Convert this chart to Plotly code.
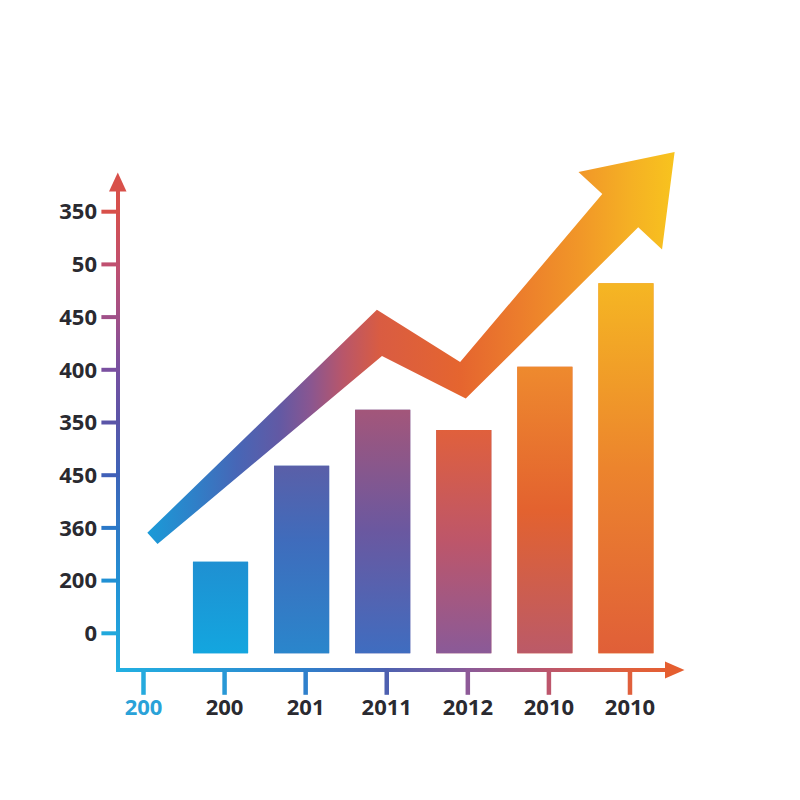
import math
import plotly.graph_objects as go

# ---------------- data ----------------
x_tick_positions = [0, 1, 2, 3, 4, 5, 6]
x_tick_labels = ["200", "200", "201", "2011", "2012", "2010", "2010"]
x_tick_colors = ["#25aade", "#2898d6", "#2f80cc", "#4e60b0", "#8e5a98", "#bd566c", "#e0603c"]

y_tick_values = [0, 50, 100, 150, 200, 250, 300, 350, 400]
y_tick_labels = ["0", "200", "360", "450", "350", "400", "450", "50", "350"]
y_tick_colors = ["#20a8dc", "#2090d4", "#2a78c8", "#4060b8", "#5a55a8",
                 "#7a50a0", "#a05088", "#c05070", "#d8504a"]

bar_x = [1, 2, 3, 4, 5, 6]
bar_values = [68, 159, 212, 193, 253, 332]
bar_colors = ["#1c9ad6", "#3e70bb", "#6c5ea2", "#b65c68", "#e2673c", "#ef8e2f"]
bar_gradients = [
    [[0, "#13a6df"], [1, "#1f90d2"]],
    [[0, "#2a86cc"], [0.6, "#3f6cbc"], [1, "#5a5fa8"]],
    [[0, "#3f6dc0"], [0.5, "#6a58a0"], [1, "#a3567a"]],
    [[0, "#8a5a98"], [0.5, "#bd566a"], [1, "#e0603c"]],
    [[0, "#bb5a68"], [0.5, "#e3622f"], [1, "#ee8a2e"]],
    [[0, "#e05f38"], [0.5, "#ec842d"], [1, "#f5b623"]],
]
BAR_BASE = -19
BAR_WIDTH, BAR_OFFSET = 0.68, -0.39

trend_x = [0.11, 2.91, 3.94, 5.88]
trend_y = [90, 285, 240, 401]

# ---------------- layout geometry (pixels, as seen on the page) ----------------
W = H = 800
PAGE_OFFSET = 8                       # default body margin of the html page
PX_L, PX_R, PX_T, PX_B = 100, 700, 140, 692
X0_PX, DX_PX = 143.5, 81.08           # pixel of x=0, pixels per x unit
Y0_PX, DY_PX = 633.3, 52.7 / 50.0     # pixel of y=0, pixels per y unit

x_range = [(PX_L - X0_PX) / DX_PX, (PX_R - X0_PX) / DX_PX]
y_range = [(Y0_PX - PX_B) / DY_PX, (Y0_PX - PX_T) / DY_PX]


def to_px(x, y):
    return X0_PX + x * DX_PX, Y0_PX - y * DY_PX


def to_data(px, py):
    return (px - X0_PX) / DX_PX, (Y0_PX - py) / DY_PX


def fill_trace(xs, ys, colorscale, gtype, start, stop):
    xs, ys = list(xs) + [xs[0]], list(ys) + [ys[0]]
    return go.Scatter(x=xs, y=ys, mode="lines", line=dict(width=0),
                      fill="toself",
                      fillgradient=dict(type=gtype, colorscale=colorscale,
                                        start=start, stop=stop),
                      hoverinfo="skip", showlegend=False)


def poly_trace(pts_px, colorscale, gtype, start_px, stop_px):
    xs, ys = zip(*[to_data(px, py) for px, py in pts_px])
    if gtype == "horizontal":
        start, stop = to_data(start_px, 0)[0], to_data(stop_px, 0)[0]
    else:
        start, stop = to_data(0, start_px)[1], to_data(0, stop_px)[1]
    return fill_trace(xs, ys, colorscale, gtype, start, stop)


fig = go.Figure()

# ---------------- trend arrow (band with gradient) ----------------
half_w = [7.6, 18.9, 14.5, 24.5]
HEAD_HW, HEAD_LEN = 57, 80
P = [to_px(x, y) for x, y in zip(trend_x, trend_y)]


def unit(v):
    n = math.hypot(*v)
    return (v[0] / n, v[1] / n)


dirs = [unit((P[i + 1][0] - P[i][0], P[i + 1][1] - P[i][1])) for i in range(len(P) - 1)]
nU = [(d[1], -d[0]) for d in dirs]
upper, lower = [], []
for i, (px, py) in enumerate(P):
    if i == 0:
        m, L = nU[0], half_w[0]
    elif i == len(P) - 1:
        m, L = nU[-1], half_w[i]
    else:
        m = unit((nU[i - 1][0] + nU[i][0], nU[i - 1][1] + nU[i][1]))
        L = half_w[i] / (m[0] * nU[i][0] + m[1] * nU[i][1])
    upper.append((px + m[0] * L, py + m[1] * L))
    lower.append((px - m[0] * L, py - m[1] * L))
pe, de, ne = P[-1], dirs[-1], nU[-1]
head_u = (pe[0] + ne[0] * HEAD_HW, pe[1] + ne[1] * HEAD_HW)
head_l = (pe[0] - ne[0] * HEAD_HW, pe[1] - ne[1] * HEAD_HW)
tip = (pe[0] + de[0] * HEAD_LEN, pe[1] + de[1] * HEAD_LEN)
arrow_pts = upper + [head_u, tip, head_l] + lower[::-1]

arrow_scale = [[0.0, "#1a9bd8"], [0.09, "#2f80c8"], [0.17, "#4766b6"], [0.25, "#6259a4"],
               [0.31, "#8a5690"], [0.37, "#b8566a"], [0.44, "#d95c42"], [0.592, "#e5652f"],
               [0.705, "#ec7d2c"], [0.819, "#f19728"], [0.913, "#f5b024"], [1.0, "#f8c41e"]]
fig.add_trace(poly_trace(arrow_pts, arrow_scale, "horizontal", 147, 676))

# ---------------- bars ----------------
fig.add_trace(go.Bar(x=bar_x, y=[v - BAR_BASE for v in bar_values], base=BAR_BASE,
                     width=BAR_WIDTH, offset=BAR_OFFSET,
                     marker=dict(color=bar_colors, line=dict(width=0)),
                     showlegend=False, hoverinfo="skip"))
# gradient shading of each bar, built from the same bar data
for bx, bv, grad in zip(bar_x, bar_values, bar_gradients):
    x_left = bx + BAR_OFFSET
    x_right = x_left + BAR_WIDTH
    fig.add_trace(fill_trace([x_left, x_right, x_right, x_left],
                             [BAR_BASE, BAR_BASE, bv, bv],
                             grad, "vertical", BAR_BASE, bv))

# ---------------- gradient axis lines ----------------
yaxis_scale = [[0.0, "#22b0e2"], [0.19, "#2390d4"], [0.41, "#3d64b8"], [0.52, "#5a55a8"],
               [0.63, "#7850a0"], [0.73, "#a05088"], [0.84, "#c05070"], [0.95, "#d5504e"],
               [1.0, "#d8504a"]]
fig.add_trace(poly_trace([(116, 672), (120, 672), (120, 189), (116, 189)],
                         yaxis_scale, "vertical", 672, 189))
fig.add_trace(poly_trace([(109, 191.5), (126.5, 191.5), (117.8, 172.5)],
                         [[0, "#d8504a"], [1, "#d8504a"]], "vertical", 192, 172))

xaxis_scale = [[0.0, "#22b0e2"], [0.19, "#2898d6"], [0.33, "#2f80cc"], [0.47, "#4a62b2"],
               [0.62, "#8a5a98"], [0.76, "#bb566c"], [0.90, "#e0603c"], [1.0, "#e55e30"]]
fig.add_trace(poly_trace([(116, 668), (667, 668), (667, 672), (116, 672)],
                         xaxis_scale, "horizontal", 116, 684))
fig.add_trace(poly_trace([(665, 661.5), (684.5, 670), (665, 678.5)],
                         [[0, "#e55e30"], [1, "#e55e30"]], "horizontal", 665, 685))

# ---------------- coloured tick marks ----------------
ytick_x = to_data(110.5, 0)[0]
fig.add_trace(go.Scatter(x=[ytick_x] * len(y_tick_values), y=y_tick_values, mode="markers",
                         marker=dict(symbol="line-ew", size=13,
                                     line=dict(width=4, color=y_tick_colors)),
                         cliponaxis=False, hoverinfo="skip", showlegend=False))
xtick_y = to_data(0, 681.5)[1]
fig.add_trace(go.Scatter(x=x_tick_positions, y=[xtick_y] * len(x_tick_positions), mode="markers",
                         marker=dict(symbol="line-ns", size=19,
                                     line=dict(width=4.5, color=x_tick_colors)),
                         cliponaxis=False, hoverinfo="skip", showlegend=False))

# ---------------- layout ----------------
x_ticktext = ['<span style="color:#2aa2d8">' + x_tick_labels[0] + '</span>'] + x_tick_labels[1:]
tick_font = dict(family="Open Sans, Arial, sans-serif", size=22, color="#2a2a30", weight="bold")

fig.update_layout(
    width=W, height=H,
    margin=dict(l=PX_L - PAGE_OFFSET, r=W - PX_R + PAGE_OFFSET,
                t=PX_T - PAGE_OFFSET, b=H - PX_B + PAGE_OFFSET, pad=0),
    paper_bgcolor="white", plot_bgcolor="white",
    showlegend=False,
    xaxis=dict(range=x_range, tickmode="array", tickvals=x_tick_positions, ticktext=x_ticktext,
               showgrid=False, zeroline=False, showline=False, ticks="",
               tickfont=tick_font, ticklabelstandoff=0, fixedrange=True),
    yaxis=dict(range=y_range, tickmode="array", tickvals=y_tick_values, ticktext=y_tick_labels,
               showgrid=False, zeroline=False, showline=False, ticks="",
               tickfont=tick_font, ticklabelstandoff=2, fixedrange=True),
)

fig.write_html("out.html")
